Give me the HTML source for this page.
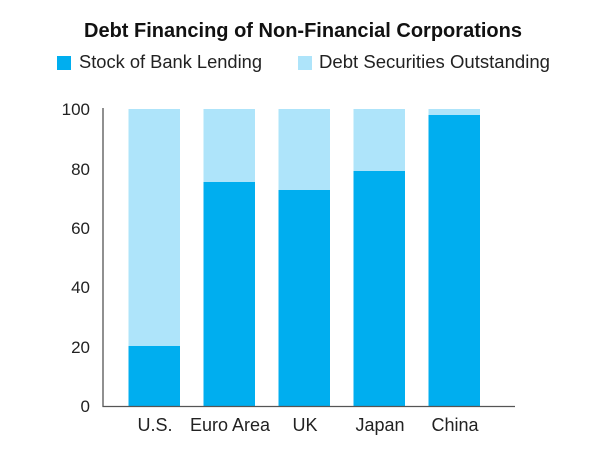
<!DOCTYPE html>
<html><head><meta charset="utf-8"><style>
html,body{margin:0;padding:0;background:#fff;}
svg{display:block;font-family:"Liberation Sans",sans-serif;}
</style></head><body>
<svg width="600" height="459" viewBox="0 0 600 459">
<text x="84" y="37" font-size="20" font-weight="bold" fill="#111" textLength="438" lengthAdjust="spacingAndGlyphs">Debt Financing of Non-Financial Corporations</text>
<rect x="57" y="56" width="14" height="14" fill="#00aeef"/>
<text x="79" y="68" font-size="18" fill="#222" textLength="183" lengthAdjust="spacingAndGlyphs">Stock of Bank Lending</text>
<rect x="298" y="56" width="14" height="14" fill="#aee4fa"/>
<text x="319" y="68" font-size="18" fill="#222" textLength="231" lengthAdjust="spacingAndGlyphs">Debt Securities Outstanding</text>
<g font-size="17" fill="#222" text-anchor="end">
<text x="90" y="115">100</text>
<text x="90" y="175">80</text>
<text x="90" y="234">60</text>
<text x="90" y="293">40</text>
<text x="90" y="353">20</text>
<text x="90" y="412">0</text>
</g>
<g fill="#aee4fa">
<rect x="128.5" y="109" width="51.5" height="297"/>
<rect x="203.5" y="109" width="51.5" height="297"/>
<rect x="278.5" y="109" width="51.5" height="297"/>
<rect x="353.5" y="109" width="51.5" height="297"/>
<rect x="428.5" y="109" width="51.5" height="297"/>
</g>
<g fill="#00aeef">
<rect x="128.5" y="346" width="51.5" height="60"/>
<rect x="203.5" y="182" width="51.5" height="224"/>
<rect x="278.5" y="190" width="51.5" height="216"/>
<rect x="353.5" y="171" width="51.5" height="235"/>
<rect x="428.5" y="115" width="51.5" height="291"/>
</g>
<line x1="103" y1="108" x2="103" y2="407" stroke="#555" stroke-width="1.3"/>
<line x1="102.5" y1="406.5" x2="515" y2="406.5" stroke="#555" stroke-width="1.3"/>
<g font-size="18" fill="#222" text-anchor="middle">
<text x="155" y="431">U.S.</text>
<text x="230" y="431">Euro Area</text>
<text x="305" y="431">UK</text>
<text x="380" y="431">Japan</text>
<text x="455" y="431">China</text>
</g>
</svg>
</body></html>
